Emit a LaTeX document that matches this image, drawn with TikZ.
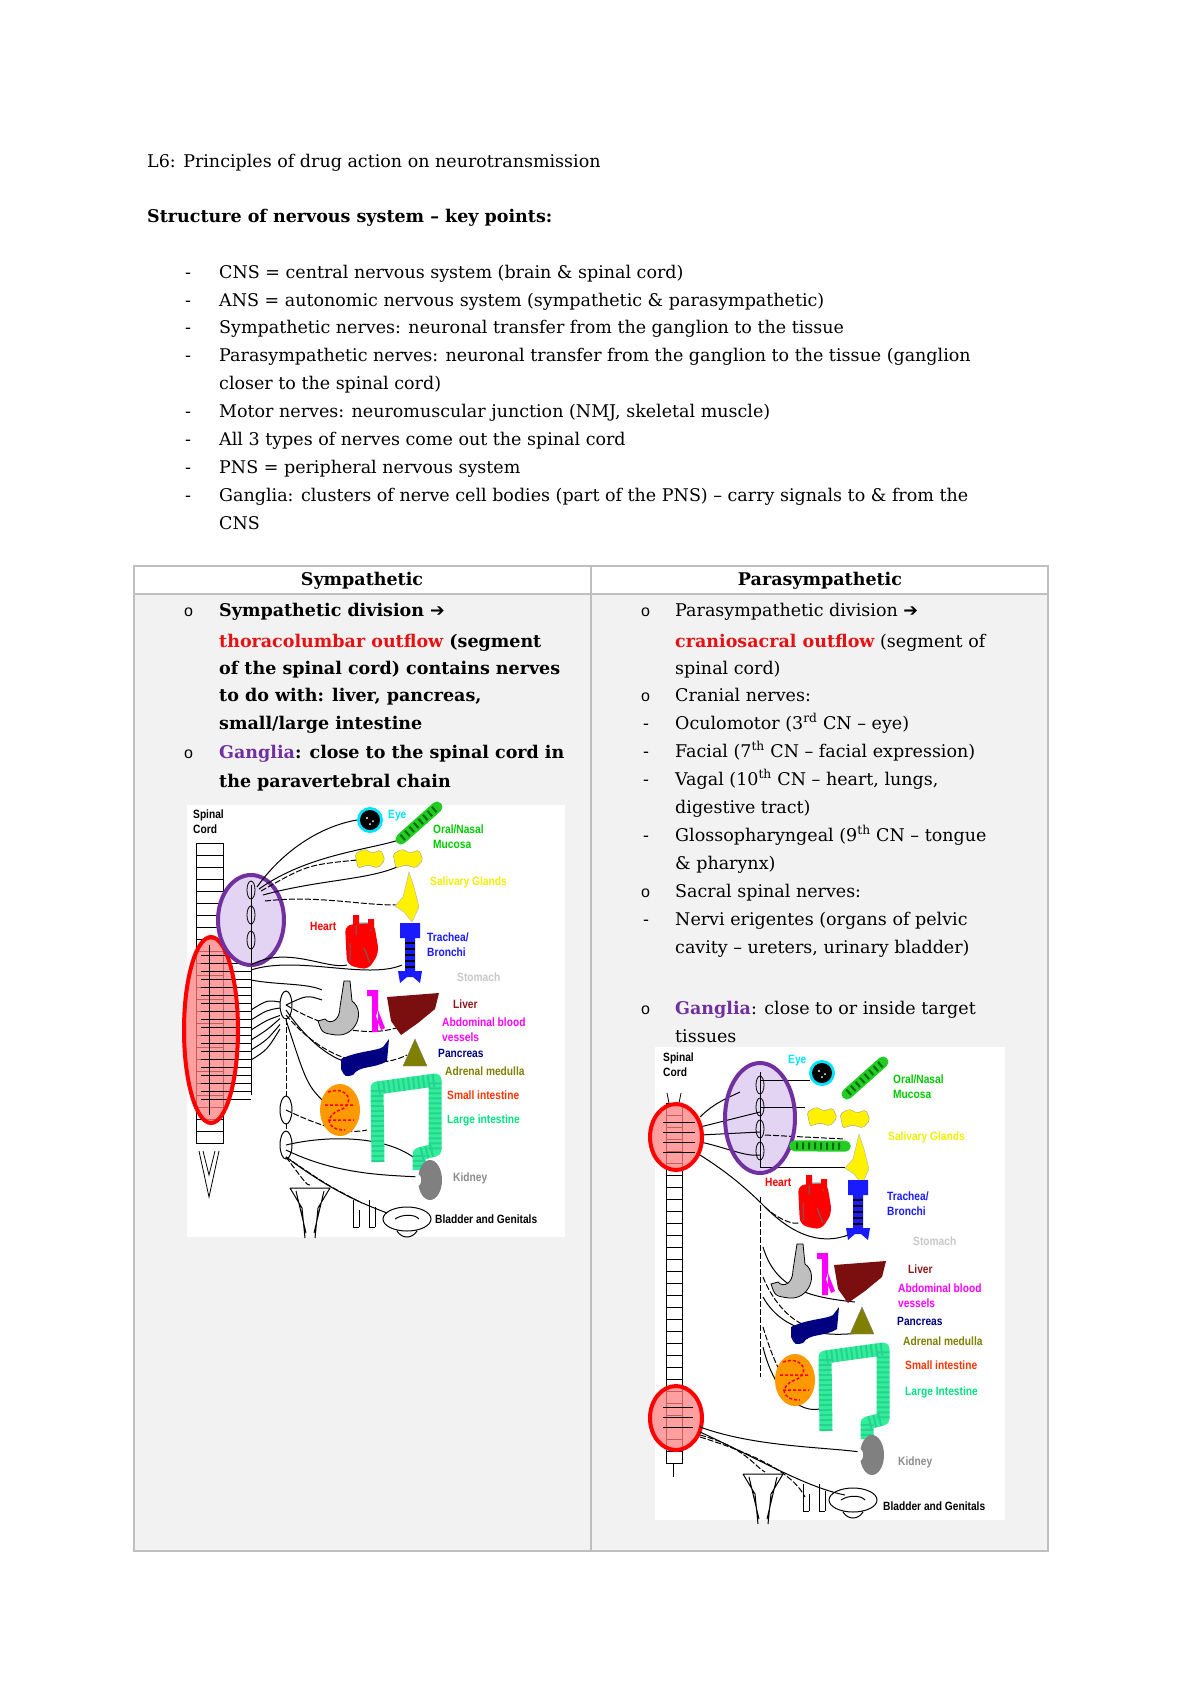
\documentclass[tikz,border=0pt]{standalone}
\usepackage{fontspec}
\setmainfont{DejaVu Serif}
\newfontfamily\dvs{DejaVu Sans}
\newfontfamily\lbl[FakeStretch=0.85]{Liberation Sans}
\newfontfamily\bul{Liberation Sans}
\definecolor{tgray}{HTML}{BFBFBF}
\definecolor{bodyg}{HTML}{F2F2F2}
\definecolor{redt}{HTML}{E81010}
\definecolor{purp}{HTML}{7030A0}
\definecolor{lpurp}{HTML}{E4D4F4}
\definecolor{mucg}{HTML}{22CC22}
\definecolor{dmucg}{HTML}{0A6A0A}
\definecolor{labcy}{HTML}{00E5FF}
\definecolor{labgr}{HTML}{00CC00}
\definecolor{labye}{HTML}{F0F000}
\definecolor{labbl}{HTML}{1A1AFF}
\definecolor{labli}{HTML}{C8C8C8}
\definecolor{labbr}{HTML}{8B1A1A}
\definecolor{labmg}{HTML}{FF00FF}
\definecolor{labnv}{HTML}{000080}
\definecolor{labol}{HTML}{808000}
\definecolor{labor}{HTML}{FF3300}
\definecolor{labln}{HTML}{00E080}
\definecolor{labkd}{HTML}{8C8C8C}
\definecolor{liverc}{HTML}{7B0F0F}
\definecolor{lgc}{HTML}{33EE99}
\tikzset{
 txt/.style={anchor=base west,inner sep=0,font=\fontsize{17.5}{20}\selectfont},
 btxt/.style={txt,font=\fontsize{17.5}{20}\selectfont\bfseries},
 bul/.style={anchor=base west,inner sep=0,font=\bul\fontsize{16}{18}\selectfont},
 lab/.style={anchor=north west,inner sep=0,align=left,font=\lbl\bfseries\fontsize{12}{15}\selectfont},
 nerve/.style={black,line width=1},
 dnerve/.style={black,line width=1,dash pattern=on 6pt off 2pt},
 pEye/.pic={\fill[labcy] (0,0) circle (13); \fill[black] (0,0) circle (10);
   \fill[white] (-3,-2) circle (1.2) (3,1) circle (1) (0,4) circle (1);},
 pMuc/.pic={\draw[line width=11,line cap=round,mucg] (-18,16) -- (18,-16);
   \draw[line width=7,dmucg,dash pattern=on 2pt off 4pt] (-17,15) -- (17,-15);},
 pSal/.pic={\fill[yellow,draw=black!40,rounded corners=2] (-15,-6) -- (-6,-11) -- (2,-7) -- (11,-10) -- (15,0) -- (8,8) -- (-2,5) -- (-12,8) -- cycle;},
 pYel/.pic={\fill[yellow,draw=black!30] (2,-25) -- (7,-10) -- (12,10) -- (5,25) -- (-3,15) -- (-12,9) -- (-4,0) -- cycle;},
 pHeart/.pic={\fill[red,rounded corners=7] (-17,-18) -- (12,-20) -- (17,10) -- (6,27) -- (-15,22) -- cycle;
   \draw[black!60,line width=1] (-6,-26) -- (-6,-8) (-6,-20) -- (8,-20) -- (8,-12) (-12,0) -- (-12,18) (2,5) -- (8,20);
   \fill[red] (-9,-28) rectangle (-3,-18) (6,-24) rectangle (12,-14);},
 pTrach/.pic={\fill[labbl] (-10,-30) rectangle (10,-15) (-5,-15) rectangle (5,18) (-12,18) -- (12,18) -- (10,30) -- (3,24) -- (-3,24) -- (-10,30) -- cycle;
   \foreach \yy in {-10,-4,2,8,14}{\draw[black,line width=1.2] (-5,\yy) -- (5,\yy);}},
 pStom/.pic={\fill[black!25,draw=black,line width=0.8] (4,-26) -- (10,-26) -- (12,-6) .. controls (26,4) and (16,30) .. (-4,28) .. controls (-18,26) .. (-22,14) -- (-15,12) .. controls (-10,18) and (0,14) .. (0,0) -- cycle;},
 pVes/.pic={\fill[labmg] (-3,-18) rectangle (3,22) (-8,-20) rectangle (3,-14) (3,0) -- (10,18) -- (6,20) -- (1,6) -- cycle;},
 pLiver/.pic={\fill[liverc] (-26,-12) -- (26,-16) -- (22,0) -- (5,14) -- (-12,26) -- (-22,12) -- cycle;},
 pPanc/.pic={\fill[labnv] (-26,2) .. controls (-10,-6) and (10,-6) .. (16,-10) -- (22,-18) -- (20,4) .. controls (8,12) and (-8,8) .. (-14,18) .. controls (-22,20) .. (-26,12) -- cycle;},
 pAdr/.pic={\fill[labol,draw=black!50] (0,-15) -- (12,12) -- (-12,12) -- cycle;},
 pSmall/.pic={\fill[orange!80!yellow] (0,0) ellipse (20 and 26);
   \draw[red,line width=1.5,dash pattern=on 3pt off 2pt] (-12,-18) .. controls (10,-25) and (15,-5) .. (0,0) .. controls (-15,5) and (-15,20) .. (5,20) (-15,-5) -- (15,-5) (-12,10) -- (14,10);},
 pLarge/.pic={\draw[line width=13,lgc,line join=round] (-27,42) -- (-28,-32) -- (30,-40) -- (30,30) -- (14,34) -- (14,50);
   \draw[line width=13,teal,opacity=0.25,dash pattern=on 2pt off 3pt] (-27,42) -- (-28,-32) -- (30,-40) -- (30,30) -- (14,34) -- (14,50);},
 pKid/.pic={\fill[gray] (0,0) ellipse (12 and 20); \fill[white] (-12,0) ellipse (3 and 6);},
 pBlad/.pic={\draw[black,line width=1] (0,0) ellipse (24 and 12) (-12,0) .. controls (-5,-5) and (8,-5) .. (12,0) (-10,12) .. controls (-5,20) and (5,20) .. (10,12);},
 pUter/.pic={\draw[black,line width=1] (-20,-15) -- (20,-15) -- (8,5) -- (5,35) (-20,-15) -- (-8,5) -- (-5,35) (-14,-12) -- (-4,30) (14,-12) -- (4,30);},
 pGen/.pic={\draw[black,line width=1] (-10,-15) -- (-10,12) -- (-4,12) (-4,-5) -- (-4,12) (6,-15) -- (6,12) (12,-8) -- (12,12) (6,12) -- (12,12);},
}
\begin{document}
\begin{tikzpicture}[x=1pt,y=-1pt]
\useasboundingbox (0,0) rectangle (1200,1698);
\fill[white] (0,0) rectangle (1200,1698);
% heading
\node[txt] (t0) at (147,167) {L6: Principles of drug action on neurotransmission};
\node[btxt] (t1) at (147,222) {Structure of nervous system – key points:};
\foreach \yy/\tt [count=\i] in {
 278/{CNS = central nervous system (brain \& spinal cord)},
 306/{ANS = autonomic nervous system (sympathetic \& parasympathetic)},
 333/{Sympathetic nerves: neuronal transfer from the ganglion to the tissue},
 361/{Parasympathetic nerves: neuronal transfer from the ganglion to the tissue (ganglion},
 417/{Motor nerves: neuromuscular junction (NMJ, skeletal muscle)},
 445/{All 3 types of nerves come out the spinal cord},
 473/{PNS = peripheral nervous system},
 501/{Ganglia: clusters of nerve cell bodies (part of the PNS) – carry signals to \& from the}}{
 \node[txt] (d\i) at (185,\yy) {-};
 \node[txt] (k\i) at (219,\yy) {\tt};
}
\node[txt] (k4b) at (219,389) {closer to the spinal cord)};
\node[txt] (k8b) at (219,529) {CNS};
% table
\fill[bodyg] (134,594) rectangle (1048,1551);
\draw[tgray,line width=1.5] (134,566) rectangle (1048,1551) (134,594) -- (1048,594) (591,566) -- (591,1551);
\node[btxt,anchor=base] (h1) at (362,585) {Sympathetic};
\node[btxt,anchor=base] (h2) at (820,585) {Parasympathetic};
% left column
\node[bul] (lb1) at (184,616) {o};
\node[btxt] (l1) at (219,616) {Sympathetic division {\dvs ➔}};
\node[btxt] (l2) at (219,647) {\textcolor{redt}{thoracolumbar outflow} (segment};
\node[btxt] (l3) at (219,674) {of the spinal cord) contains nerves};
\node[btxt] (l4) at (219,701) {to do with: liver, pancreas,};
\node[btxt] (l5) at (219,729) {small/large intestine};
\node[bul] (lb2) at (184,758) {o};
\node[btxt] (l6) at (219,758) {\textcolor{purp}{Ganglia}: close to the spinal cord in};
\node[btxt] (l7) at (219,787) {the paravertebral chain};
% right column
\node[bul] (rb1) at (641,616) {o};
\node[txt] (r1) at (675,616) {Parasympathetic division {\dvs ➔}};
\node[txt] (r2) at (675,647) {\textcolor{redt}{\bfseries craniosacral outflow} (segment of};
\node[txt] (r3) at (675,674) {spinal cord)};
\node[bul] (rb2) at (641,701) {o};
\node[txt] (r4) at (675,701) {Cranial nerves:};
\node[txt] (rd1) at (643,729) {-};
\node[txt] (r5) at (675,729) {Oculomotor (3\textsuperscript{rd} CN – eye)};
\node[txt] (rd2) at (643,757) {-};
\node[txt] (r6) at (675,757) {Facial (7\textsuperscript{th} CN – facial expression)};
\node[txt] (rd3) at (643,785) {-};
\node[txt] (r7) at (675,785) {Vagal (10\textsuperscript{th} CN – heart, lungs,};
\node[txt] (r8) at (675,813) {digestive tract)};
\node[txt] (rd4) at (643,841) {-};
\node[txt] (r9) at (675,841) {Glossopharyngeal (9\textsuperscript{th} CN – tongue};
\node[txt] (r10) at (675,869) {\& pharynx)};
\node[bul] (rb3) at (641,897) {o};
\node[txt] (r11) at (675,897) {Sacral spinal nerves:};
\node[txt] (rd5) at (643,925) {-};
\node[txt] (r12) at (675,925) {Nervi erigentes (organs of pelvic};
\node[txt] (r13) at (675,953) {cavity – ureters, urinary bladder)};
\node[bul] (rb4) at (641,1014) {o};
\node[txt] (r14) at (675,1014) {\textcolor{purp}{\bfseries Ganglia}: close to or inside target};
\node[txt] (r15) at (675,1042) {tissues};

% ===== left illustration =====
\begin{scope}[shift={(187,805)}]
\fill[white] (0,0) rectangle (378,432);
\node[lab,black] (sc1) at (6,5) {Spinal\\Cord};
\foreach \yy in {38,50,...,334}{\draw[black,line width=0.8] (9,\yy) rectangle (36,\yy+12);}
\draw[black,line width=0.8] (12,346) -- (22,392) -- (32,346) (16,346) -- (22,370) -- (28,346);
\fill[red!50,opacity=0.75] (24,225) ellipse (27 and 93);
\foreach \yy in {150,158,...,300}{\draw[black,line width=0.7] (14,\yy) -- (64,\yy);}
\draw[black,line width=0.8] (22,140) -- (22,310);
\draw[red,line width=4] (24,225) ellipse (27 and 93);
\fill[lpurp] (64,115) ellipse (33 and 45);
\draw[black,line width=1] (64,80) -- (64,290);
\foreach \yy in {85,110,135}{\draw[black,line width=0.8] (64,\yy) ellipse (4 and 9);}
\draw[purp,line width=4] (64,115) ellipse (33 and 45);
\draw[dnerve] (99,190) -- (99,350);
\foreach \yy in {200,305,340}{\draw[black,line width=1,fill=white] (99,\yy) ellipse (6 and 14);}
% nerves
\draw[nerve] (70,82) .. controls (100,40) and (140,20) .. (170,15);
\draw[nerve] (72,84) .. controls (120,50) and (180,45) .. (212,35);
\draw[dnerve] (74,86) .. controls (120,60) .. (170,55);
\draw[nerve] (76,90) .. controls (130,75) and (180,75) .. (210,62);
\draw[dnerve] (78,96) .. controls (130,90) and (170,100) .. (210,100);
\draw[nerve] (64,160) .. controls (100,140) and (140,165) .. (160,160);
\draw[nerve] (64,165) .. controls (110,150) and (180,175) .. (215,160);
\draw[nerve] (64,175) .. controls (90,180) and (120,178) .. (135,185);
\foreach \yy/\ty in {205/190,215/210,225/235,235/245,245/265,255/280}{\draw[nerve] (64,\yy) .. controls (80,\yy-10) .. (93,\ty*0.3+140);}
\draw[nerve] (99,200) .. controls (120,190) .. (135,195);
\draw[dnerve] (99,200) .. controls (150,230) and (190,230) .. (212,222);
\draw[nerve] (99,205) .. controls (130,250) and (160,260) .. (170,258);
\draw[dnerve] (99,210) .. controls (150,270) and (200,260) .. (220,250);
\draw[nerve] (99,215) .. controls (120,280) .. (140,300);
\draw[dnerve] (99,305) .. controls (130,320) and (160,330) .. (180,325);
\draw[nerve] (99,340) .. controls (140,330) and (200,330) .. (230,355);
\draw[nerve] (99,345) .. controls (150,370) and (200,370) .. (232,372);
\draw[dnerve] (99,352) .. controls (120,380) .. (123,380);
\draw[nerve] (99,352) .. controls (150,390) and (180,400) .. (200,408);
\draw[dnerve] (99,352) .. controls (140,380) .. (175,398);
% organs
\pic at (183,15) {pEye};
\pic at (232,18) {pMuc};
\pic at (183,55) {pSal};
\pic at (221,55) {pSal};
\pic at (220,92) {pYel};
\pic at (175,138) {pHeart};
\pic at (223,148) {pTrach};
\pic at (153,202) {pStom};
\pic at (188,205) {pVes};
\pic at (226,204) {pLiver};
\pic at (180,252) {pPanc};
\pic at (228,249) {pAdr};
\pic at (153,305) {pSmall};
\pic at (218,315) {pLarge};
\pic at (243,375) {pKid};
\pic at (220,414) {pBlad};
\pic at (123,398) {pUter};
\pic at (176,410) {pGen};
\node[lab,labcy] at (201,5) {Eye};
\node[lab,labgr] at (246,20) {Oral/Nasal\\Mucosa};
\node[lab,labye] at (243,72) {Salivary Glands};
\node[lab,red] at (123,117) {Heart};
\node[lab,labbl] at (240,128) {Trachea/\\Bronchi};
\node[lab,labli] at (270,168) {Stomach};
\node[lab,labbr] at (266,195) {Liver};
\node[lab,labmg] at (255,213) {Abdominal blood\\vessels};
\node[lab,labnv] at (251,244) {Pancreas};
\node[lab,labol] at (258,262) {Adrenal medulla};
\node[lab,labor] at (260,286) {Small intestine};
\node[lab,labln] at (260,310) {Large intestine};
\node[lab,labkd] at (266,368) {Kidney};
\node[lab,black] at (248,410) {Bladder and Genitals};
\end{scope}

% ===== right illustration =====
\begin{scope}[shift={(655,1047)}]
\fill[white] (0,0) rectangle (350,473);
\node[lab,black] (sc2) at (8,6) {Spinal\\Cord};
\draw[black,line width=0.8] (12,46) -- (14,56) (26,46) -- (24,56);
\foreach \yy in {56,68,...,404}{\draw[black,line width=0.8] (11,\yy) rectangle (27,\yy+12);}
\draw[black,line width=0.8] (18,416) -- (18,430);
\fill[red!50,opacity=0.75] (21,90) ellipse (26 and 33);
\fill[red!50,opacity=0.75] (21,371) ellipse (26 and 32);
\foreach \yy in {75,85,95,105}{\draw[black,line width=0.7] (8,\yy) -- (40,\yy);}
\foreach \yy in {360,370,380}{\draw[black,line width=0.7] (8,\yy) -- (38,\yy);}
\fill[lpurp] (105,71) ellipse (35 and 55);
\draw[black,line width=0.8] (105,25) -- (105,120);
\foreach \yy in {38,60,82,104}{\draw[black,line width=0.8] (105,\yy) ellipse (4 and 9);}
\draw[nerve] (45,70) .. controls (60,55) and (75,50) .. (85,45);
\draw[nerve] (45,80) -- (105,65);
\draw[nerve] (45,88) -- (105,85);
\draw[nerve] (45,95) .. controls (70,100) and (90,110) .. (105,108);
\draw[nerve] (105,33) -- (155,33);
\draw[nerve] (105,60) -- (150,60);
\draw[dnerve] (110,88) -- (190,92);
\draw[nerve] (105,120) -- (190,120);
\draw[purp,line width=4] (105,71) ellipse (35 and 55);
\draw[red,line width=4] (21,90) ellipse (26 and 33);
\draw[red,line width=4] (21,371) ellipse (26 and 32);
% long nerves
\draw[nerve] (45,108) .. controls (80,130) and (100,150) .. (110,160);
\draw[dnerve] (110,160) .. controls (120,170) and (140,180) .. (145,175);
\draw[nerve] (110,160) .. controls (140,190) and (170,200) .. (200,185);
\draw[dnerve] (105,150) -- (105,330);
\draw[nerve] (108,200) .. controls (120,240) and (150,250) .. (200,255);
\draw[dnerve] (108,230) .. controls (120,260) and (140,275) .. (150,278);
\draw[nerve] (108,250) .. controls (130,290) and (180,290) .. (210,285);
\draw[dnerve] (108,280) .. controls (120,320) and (130,335) .. (135,335);
\draw[nerve] (108,300) .. controls (120,350) and (150,370) .. (170,360);
\draw[nerve] (45,380) .. controls (100,400) and (170,400) .. (205,405);
\draw[nerve] (45,385) .. controls (100,410) and (150,440) .. (190,448);
\draw[dnerve] (45,388) .. controls (90,400) and (100,420) .. (110,425);
\draw[dnerve] (45,390) .. controls (110,410) and (140,430) .. (150,450);
% organs
\pic at (167,26) {pEye};
\pic at (210,31) {pMuc};
\pic at (167,71) {pSal};
\pic at (200,73) {pSal};
\pic[rotate=-42,scale=1.05] at (165,99) {pMuc};
\pic at (202,112) {pYel};
\pic at (160,156) {pHeart};
\pic at (203,163) {pTrach};
\pic at (138,223) {pStom};
\pic at (170,226) {pVes};
\pic at (205,230) {pLiver};
\pic at (162,278) {pPanc};
\pic at (207,275) {pAdr};
\pic at (140,333) {pSmall};
\pic at (198,342) {pLarge};
\pic at (217,408) {pKid};
\pic at (198,453) {pBlad};
\pic at (108,442) {pUter};
\pic at (158,452) {pGen};
\node[lab,labcy] at (133,8) {Eye};
\node[lab,labgr] at (238,28) {Oral/Nasal\\Mucosa};
\node[lab,labye] at (233,85) {Salivary Glands};
\node[lab,red] at (110,131) {Heart};
\node[lab,labbl] at (232,145) {Trachea/\\Bronchi};
\node[lab,labli] at (258,190) {Stomach};
\node[lab,labbr] at (253,218) {Liver};
\node[lab,labmg] at (243,237) {Abdominal blood\\vessels};
\node[lab,labnv] at (242,270) {Pancreas};
\node[lab,labol] at (248,290) {Adrenal medulla};
\node[lab,labor] at (250,314) {Small intestine};
\node[lab,labln] at (250,340) {Large Intestine};
\node[lab,labkd] at (243,410) {Kidney};
\node[lab,black] at (228,455) {Bladder and Genitals};
\end{scope}
\end{tikzpicture}
\end{document}
